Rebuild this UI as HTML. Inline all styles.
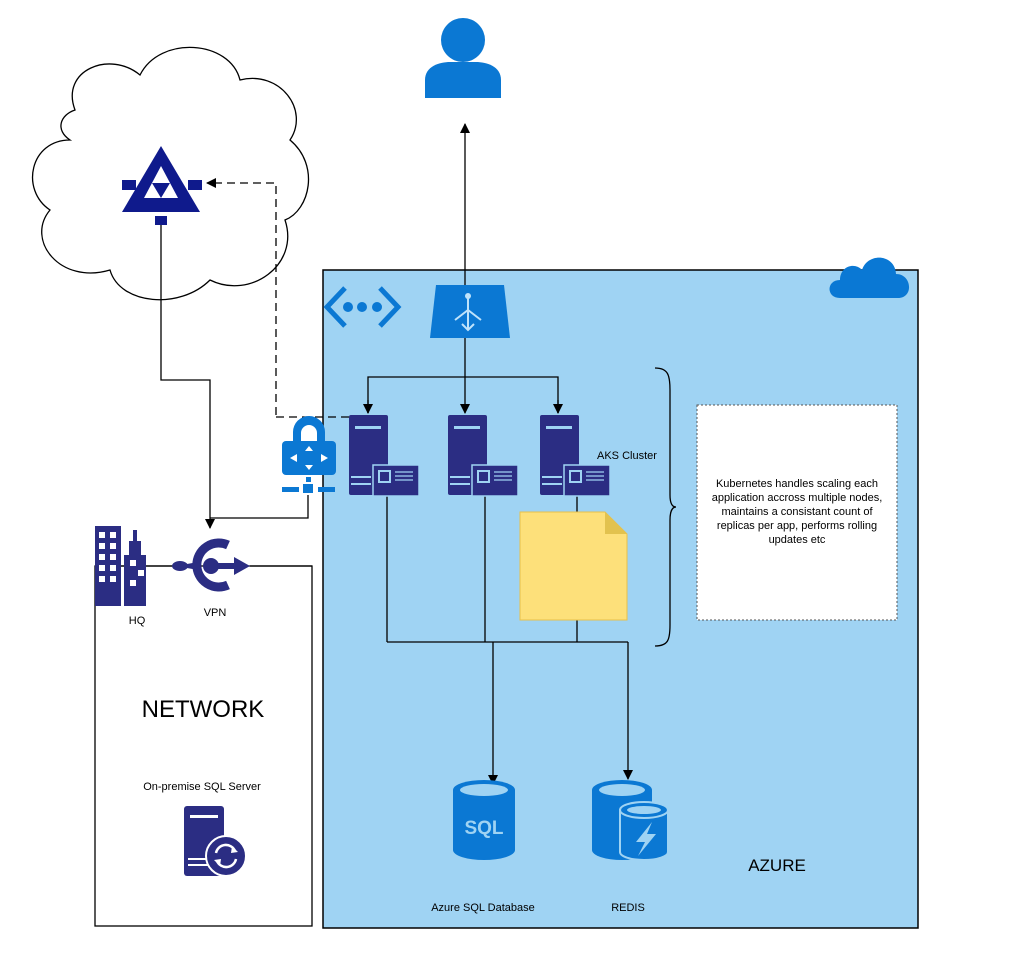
<!DOCTYPE html>
<html><head><meta charset="utf-8"><style>
html,body{margin:0;padding:0;background:#fff;}
svg{display:block;font-family:"Liberation Sans",sans-serif;}
</style></head><body>
<svg width="1024" height="978" viewBox="0 0 1024 978" xmlns="http://www.w3.org/2000/svg">
<defs>
<marker id="ah" markerWidth="10" markerHeight="10" refX="9" refY="5" orient="auto" markerUnits="userSpaceOnUse"><path d="M0,0 L10,5 L0,10 z" fill="#000"/></marker>
</defs>
<!-- cloud -->
<path d="M75,110 C60,70 110,50 140,75 C160,35 230,40 240,80 C280,70 310,110 290,140 C320,165 310,210 285,220 C300,265 250,300 210,280 C180,310 120,305 110,270 C60,285 25,240 50,210 C20,190 30,140 70,140 C55,130 60,115 75,110 Z" fill="#fff" stroke="#000" stroke-width="1.3"/>
<!-- azure box -->
<rect x="323" y="270" width="595" height="658" fill="#9fd3f3" stroke="#000" stroke-width="1.5"/>
<!-- network box -->
<rect x="95" y="566" width="217" height="360" fill="#fff" stroke="#000" stroke-width="1.3"/>
<!-- small cloud -->
<path d="M840,298 C826,298 826,280 840,280 C840,266 855,262 862,270 C868,252 895,254 896,274 C912,274 914,298 898,298 Z" fill="#0a78d4"/>
<!-- user -->
<circle cx="463" cy="40" r="22" fill="#0b78d3"/>
<path d="M425,98 L425,80 C425,66 440,62 450,62 L476,62 C486,62 501,66 501,80 L501,98 Z" fill="#0b78d3"/>
<!-- lines -->
<g stroke="#000" stroke-width="1.3" fill="none">
<line x1="465" y1="285" x2="465" y2="124" marker-end="url(#ah)"/>
<line x1="465" y1="338" x2="465" y2="413" marker-end="url(#ah)"/>
<polyline points="368,413 368,377 558,377 558,413" />
<line x1="368" y1="400" x2="368" y2="413" marker-end="url(#ah)"/>
<line x1="558" y1="400" x2="558" y2="413" marker-end="url(#ah)"/>
<line x1="387" y1="495" x2="387" y2="642"/>
<line x1="485" y1="495" x2="485" y2="642"/>
<line x1="577" y1="495" x2="577" y2="512"/>
<line x1="577" y1="620" x2="577" y2="642"/>
<line x1="387" y1="642" x2="628" y2="642"/>
<line x1="493" y1="642" x2="493" y2="784" marker-end="url(#ah)"/>
<line x1="628" y1="642" x2="628" y2="779" marker-end="url(#ah)"/>
<polyline points="161,222 161,380 210,380 210,528" marker-end="url(#ah)"/>
<polyline points="308,495 308,518 210,518"/>
<line x1="250" y1="566" x2="312" y2="566"/>
<line x1="95" y1="566" x2="172" y2="566"/>
<polyline points="276,415 276,183 207,183" stroke-dasharray="8,5" marker-end="url(#ah)"/>
<line x1="276" y1="417" x2="350" y2="417" stroke-dasharray="8,5"/>
</g>
<!-- triangle icon -->
<g fill="#0f1a8c">
<path d="M161,146 L200,212 L122,212 Z"/>
<path d="M161,166 L178,198 L144,198 Z" fill="#fff"/>
<path d="M152,183 L170,183 L161,198 Z"/>
<rect x="122" y="180" width="14" height="10"/><rect x="188" y="180" width="14" height="10"/>
<rect x="155" y="216" width="12" height="9"/>
</g>
<!-- vnet -->
<g stroke="#0b78d3" stroke-width="5" fill="none"><polyline points="345,288 327,307 345,326"/><polyline points="380,288 398,307 380,326"/></g>
<g fill="#0b78d3"><circle cx="348" cy="307" r="5"/><circle cx="362" cy="307" r="5"/><circle cx="377" cy="307" r="5"/></g>
<!-- load balancer -->
<path d="M436,285 L504,285 L510,338 L430,338 Z" fill="#0b78d3"/>
<g stroke="#bfe3fb" stroke-width="2" fill="none"><line x1="468" y1="297" x2="468" y2="330"/><line x1="468" y1="310" x2="455" y2="320"/><line x1="468" y1="310" x2="481" y2="320"/><polyline points="462,324 468,330 474,324"/></g>
<circle cx="468" cy="296" r="3" fill="#bfe3fb"/>
<!-- servers -->
<g id="srv">
<rect x="349" y="415" width="39" height="80" rx="2" fill="#2b2d83"/>
<rect x="355" y="426" width="26" height="3" fill="#9fd3f3"/>
<rect x="373" y="465" width="46" height="31" fill="#2b2d83" stroke="#9fd3f3" stroke-width="1.5"/>
<rect x="378" y="470" width="13" height="13" fill="#9fd3f3"/><rect x="380" y="472" width="9" height="9" fill="#2b2d83"/>
<g stroke="#9fd3f3" stroke-width="1.2"><line x1="395" y1="472" x2="413" y2="472"/><line x1="395" y1="476" x2="413" y2="476"/><line x1="395" y1="480" x2="413" y2="480"/></g>
<rect x="351" y="476" width="20" height="2" fill="#9fd3f3"/><rect x="351" y="483" width="20" height="2" fill="#9fd3f3"/>
</g>
<use href="#srv" x="99"/>
<use href="#srv" x="191"/>
<text x="597" y="459" font-size="11">AKS Cluster</text>
<!-- firewall -->
<path d="M293,442 L293,432 A16,16 0 0 1 325,432 L325,442 L317,442 L317,433 A8,8 0 0 0 301,433 L301,442 Z" fill="#0b78d3"/>
<rect x="282" y="441" width="54" height="34" rx="4" fill="#0b78d3"/>
<g fill="#fff"><path d="M309,446 L313,451 L305,451 Z"/><path d="M309,470 L313,465 L305,465 Z"/><path d="M290,458 L297,454 L297,462 Z"/><path d="M328,458 L321,454 L321,462 Z"/></g>
<g fill="#0b78d3"><rect x="306" y="477" width="5" height="5"/><rect x="303" y="484" width="10" height="9"/><rect x="282" y="487" width="17" height="5"/><rect x="318" y="487" width="17" height="5"/></g>
<!-- sticky -->
<path d="M520,512 L605,512 L627,534 L627,620 L520,620 Z" fill="#fde07a" stroke="#e8c04a" stroke-width="1"/>
<path d="M605,512 L605,534 L627,534 Z" fill="#e2c24e"/>
<!-- brace -->
<path d="M655,368 C668,368 670,375 670,390 L670,495 C670,505 673,507 676,507 C673,507 670,510 670,520 L670,625 C670,640 668,646 655,646" fill="none" stroke="#000" stroke-width="1.3"/>
<!-- note box -->
<rect x="697" y="405" width="200" height="215" fill="#fff" stroke="#555" stroke-width="1" stroke-dasharray="2,2"/>
<g font-size="11" text-anchor="middle">
<text x="797" y="487">Kubernetes handles scaling each</text>
<text x="797" y="501">application accross multiple nodes,</text>
<text x="797" y="515">maintains a consistant count of</text>
<text x="797" y="529">replicas per app, performs rolling</text>
<text x="797" y="543">updates etc</text>
</g>
<!-- SQL -->
<path d="M453,790 L453,850 A31,10 0 0 0 515,850 L515,790 Z" fill="#0b78d3"/>
<ellipse cx="484" cy="790" rx="31" ry="10" fill="#0b78d3"/>
<ellipse cx="484" cy="790" rx="24" ry="6" fill="#9fd3f3"/>
<text x="484" y="834" font-size="19" font-weight="bold" fill="#9fd3f3" text-anchor="middle">SQL</text>
<!-- REDIS -->
<path d="M592,790 L592,850 A30,10 0 0 0 652,850 L652,790 Z" fill="#0b78d3"/>
<ellipse cx="622" cy="790" rx="30" ry="10" fill="#0b78d3"/>
<ellipse cx="622" cy="790" rx="23" ry="6" fill="#9fd3f3"/>
<path d="M620,810 L620,852 A24,8 0 0 0 668,852 L668,810 Z" fill="#0b78d3" stroke="#9fd3f3" stroke-width="2"/>
<ellipse cx="644" cy="810" rx="24" ry="8" fill="#0b78d3" stroke="#9fd3f3" stroke-width="2"/>
<ellipse cx="644" cy="810" rx="17" ry="4" fill="#9fd3f3"/>
<path d="M652,822 L636,842 L645,842 L638,856 L656,834 L647,834 Z" fill="#9fd3f3"/>
<text x="483" y="911" font-size="11" text-anchor="middle">Azure SQL Database</text>
<text x="628" y="911" font-size="11" text-anchor="middle">REDIS</text>
<text x="777" y="871" font-size="17" text-anchor="middle">AZURE</text>
<!-- HQ building -->
<g fill="#2b2d83">
<rect x="95" y="526" width="26" height="80"/>
<rect x="124" y="555" width="22" height="51"/><rect x="129" y="541" width="12" height="16"/><rect x="133" y="530" width="4" height="12"/>
</g>
<g fill="#fff"><rect x="99" y="532" width="6" height="6"/><rect x="110" y="532" width="6" height="6"/><rect x="99" y="543" width="6" height="6"/><rect x="110" y="543" width="6" height="6"/><rect x="99" y="554" width="6" height="6"/><rect x="110" y="554" width="6" height="6"/><rect x="99" y="565" width="6" height="6"/><rect x="110" y="565" width="6" height="6"/><rect x="99" y="576" width="6" height="6"/><rect x="110" y="576" width="6" height="6"/><rect x="130" y="560" width="6" height="6"/><rect x="138" y="570" width="6" height="6"/><rect x="130" y="580" width="6" height="6"/></g>
<text x="137" y="624" font-size="11" text-anchor="middle">HQ</text>
<!-- VPN -->
<path d="M228,545 A22,22 0 1 0 228,585" fill="none" stroke="#2b2d83" stroke-width="9"/>
<path d="M176,566 L198,562 L198,570 Z" fill="#2b2d83"/>
<ellipse cx="180" cy="566" rx="8" ry="5" fill="#2b2d83"/>
<circle cx="211" cy="566" r="8" fill="#2b2d83"/>
<rect x="211" y="563" width="26" height="6" fill="#2b2d83"/>
<path d="M234,557 L250,566 L234,575 Z" fill="#2b2d83"/>
<text x="215" y="616" font-size="11" text-anchor="middle">VPN</text>
<text x="203" y="717" font-size="24" text-anchor="middle">NETWORK</text>
<text x="202" y="790" font-size="11" text-anchor="middle">On-premise SQL Server</text>
<!-- on-prem server -->
<rect x="184" y="806" width="40" height="70" rx="3" fill="#2b2d83"/>
<rect x="190" y="815" width="28" height="3" fill="#fff"/>
<rect x="188" y="858" width="20" height="2" fill="#fff"/><rect x="188" y="864" width="20" height="2" fill="#fff"/>
<circle cx="226" cy="856" r="20" fill="#2b2d83" stroke="#fff" stroke-width="2"/>
<path d="M216,853 A10,10 0 0 1 235,851 M236,859 A10,10 0 0 1 217,861" fill="none" stroke="#fff" stroke-width="2.5"/>
<path d="M232,846 L238,852 L231,853 Z M220,866 L214,860 L221,859 Z" fill="#fff"/>
</svg>
</body></html>
